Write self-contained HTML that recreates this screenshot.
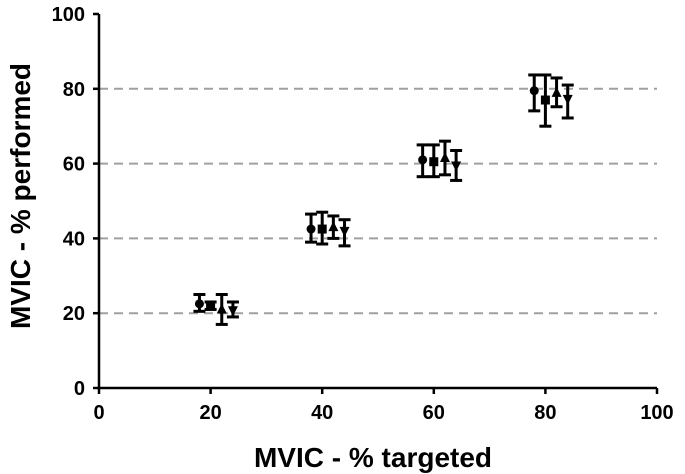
<!DOCTYPE html>
<html><head><meta charset="utf-8"><style>
body{margin:0;background:#fff}
svg{display:block;font-family:"Liberation Sans",Arial,sans-serif;font-weight:bold}
</style></head><body>
<svg id="c" width="685" height="474"></svg>
<script>
const groups=[20,40,60,80];
const offsets=[-2,0,2,4];
const markerTypes=['circle','square','triangle','invtriangle'];
const means=[[22.5,42.5,61,79.5],[22,42.5,60.5,77],[21,43,61.5,78.9],[20.8,42,59.5,77.3]];
const lows=[[20.5,39,56.5,74.1],[21,38.5,56.5,70],[17,40,57,75.2],[19,38,55.5,72.2]];
const highs=[[25,46.5,65,83.7],[23,47,65,83.7],[25,46,66,82.9],[23,45,63.5,81]];
const xTicks=[0,20,40,60,80,100];
const yTicks=[0,20,40,60,80,100];
const grid=[20,40,60,80];
const X0=99,X1=657,Y0=388,Y1=14;
const sx=v=>X0+(X1-X0)*v/100, sy=v=>Y0-(Y0-Y1)*v/100;
const svg=document.getElementById('c');const NS='http://www.w3.org/2000/svg';
function mk(t,a,p){const e=document.createElementNS(NS,t);for(const k in a)e.setAttribute(k,a[k]);(p||svg).appendChild(e);return e;}
grid.forEach(g=>{const l=mk('line',{x1:X0,x2:X1,y1:sy(g),y2:sy(g),stroke:'#a0a0a0','stroke-width':2,'stroke-dasharray':'9,6'});

});
const ax=mk('path',{d:`M${X0},${Y1}V${Y0}H${X1}`,stroke:'#000','stroke-width':2.5,fill:'none'});


xTicks.forEach(v=>{mk('line',{x1:sx(v),x2:sx(v),y1:Y0,y2:Y0+6,stroke:'#000','stroke-width':2.5});
const t=mk('text',{x:sx(v),y:Y0+31,'text-anchor':'middle','font-size':20});t.textContent=v;

});
yTicks.forEach(v=>{mk('line',{x1:X0-6,x2:X0,y1:sy(v),y2:sy(v),stroke:'#000','stroke-width':2.5});
const t=mk('text',{x:X0-14,y:sy(v)+7,'text-anchor':'end','font-size':20});t.textContent=v;

});
const xt=mk('text',{x:373,y:467,'text-anchor':'middle','font-size':28});xt.textContent='MVIC - % targeted';


const yt=mk('text',{x:0,y:0,'text-anchor':'middle','font-size':28,transform:'translate(30,196) rotate(-90)'});yt.textContent='MVIC - % performed';


markerTypes.forEach((m,s)=>{groups.forEach((g,i)=>{
const x=sx(g+offsets[s]),y=sy(means[s][i]),lo=sy(lows[s][i]),hi=sy(highs[s][i]);
const gEl=mk('g',{});


mk('line',{x1:x,x2:x,y1:hi,y2:lo,stroke:'#000','stroke-width':3},gEl);
mk('line',{x1:x-6,x2:x+6,y1:hi,y2:hi,stroke:'#000','stroke-width':3},gEl);
mk('line',{x1:x-6,x2:x+6,y1:lo,y2:lo,stroke:'#000','stroke-width':3},gEl);
if(m==='circle')mk('circle',{cx:x,cy:y,r:4.5,fill:'#000'},gEl);
else if(m==='square')mk('rect',{x:x-4.5,y:y-4.5,width:9,height:9,fill:'#000'},gEl);
else if(m==='triangle')mk('path',{d:`M${x},${y-6}L${x+5},${y+4}L${x-5},${y+4}Z`,fill:'#000'},gEl);
else mk('path',{d:`M${x},${y+6}L${x+5},${y-4}L${x-5},${y-4}Z`,fill:'#000'},gEl);
});});
</script>
</body></html>
